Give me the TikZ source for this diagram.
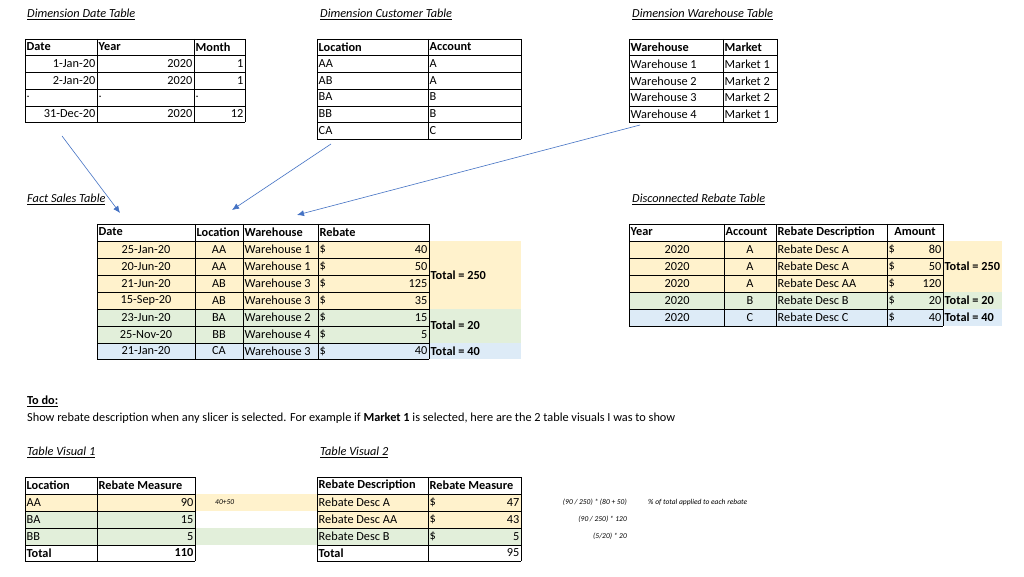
\documentclass[tikz,border=0pt]{standalone}
\usepackage{fontspec}
\setmainfont{Carlito}
\definecolor{cor}{HTML}{FFF2CC}
\definecolor{cgr}{HTML}{E2EFDA}
\definecolor{cbl}{HTML}{DDEBF7}
\definecolor{arr}{HTML}{4472C4}
\newcommand\tL[3]{\node[anchor=west,inner sep=1.5pt] at (#1,#2) {#3};}
\newcommand\tR[3]{\node[anchor=east,inner sep=1.5pt] at (#1,#2) {#3};}
\newcommand\tC[3]{\node[anchor=center,inner sep=1.5pt] at (#1,#2) {#3};}
\newcommand\ttl[3]{\node[anchor=west,inner sep=0pt,font=\fontsize{12.3}{14}\selectfont\itshape] at (#1,#2) {\underline{#3}};}
\tikzset{tline/.style={line width=0.9pt},
  conn/.style={draw=arr,line width=0.6pt,-{Latex[length=7pt,width=6pt]}}}
\usetikzlibrary{arrows.meta}
\begin{document}
\begin{tikzpicture}[x=1pt,y=-1pt,font=\fontsize{12.3}{14}\selectfont]
\useasboundingbox[fill=white] (0,0) rectangle (1024,577);
% ---------- Date table
\ttl{27}{14}{Dimension Date Table}
\foreach \x in {25,97,194,245} \draw[tline] (\x,39) -- (\x,122);
\foreach \y in {39,55,72,89,106,122} \draw[tline] (25,\y) -- (245,\y);
\tL{25}{47}{\bfseries Date}\tL{97}{47}{\bfseries Year}\tL{194}{47}{\bfseries Month}
\tR{97}{64}{1-Jan-20}\tR{194}{64}{2020}\tR{245}{64}{1}
\tR{97}{81}{2-Jan-20}\tR{194}{81}{2020}\tR{245}{81}{1}
\tL{25}{97}{.}\tL{97}{97}{.}\tL{194}{97}{.}
\tR{97}{114}{31-Dec-20}\tR{194}{114}{2020}\tR{245}{114}{12}
% ---------- Customer table
\ttl{320}{14}{Dimension Customer Table}
\foreach \x in {317,428,521} \draw[tline] (\x,39) -- (\x,139);
\foreach \y in {39,55,72,89,106,122,139} \draw[tline] (317,\y) -- (521,\y);
\tL{317}{47}{\bfseries Location}\tL{428}{47}{\bfseries Account}
\tL{317}{64}{AA}\tL{428}{64}{A}
\tL{317}{81}{AB}\tL{428}{81}{A}
\tL{317}{97}{BA}\tL{428}{97}{B}
\tL{317}{114}{BB}\tL{428}{114}{B}
\tL{317}{131}{CA}\tL{428}{131}{C}
% ---------- Warehouse table
\ttl{632}{14}{Dimension Warehouse Table}
\foreach \x in {629,723,777} \draw[tline] (\x,39) -- (\x,122);
\foreach \y in {39,55,72,89,106,122} \draw[tline] (629,\y) -- (777,\y);
\tL{629}{47}{\bfseries Warehouse}\tL{723}{47}{\bfseries Market}
\tL{629}{64}{Warehouse 1}\tL{723}{64}{Market 1}
\tL{629}{81}{Warehouse 2}\tL{723}{81}{Market 2}
\tL{629}{97}{Warehouse 3}\tL{723}{97}{Market 2}
\tL{629}{114}{Warehouse 4}\tL{723}{114}{Market 1}
% ---------- Fact table
\ttl{27}{199}{Fact Sales Table}
\fill[cor] (97,241) rectangle (521,309);
\fill[cgr] (97,309) rectangle (521,343);
\fill[cbl] (97,343) rectangle (521,359);
\foreach \x in {97,195,243,318,429} \draw[tline] (\x,224) -- (\x,359);
\foreach \y in {224,241,258,275,292,309,326,343,359} \draw[tline] (97,\y) -- (429,\y);
\tL{97}{232}{\bfseries Date}\tL{195}{232}{\bfseries Location}\tL{243}{232}{\bfseries Warehouse}\tL{318}{232}{\bfseries Rebate}
\foreach \y/\d/\l/\w/\r in {249.5/25-Jan-20/AA/1/40,266.5/20-Jun-20/AA/1/50,283.5/21-Jun-20/AB/3/125,300.5/15-Sep-20/AB/3/35,317.5/23-Jun-20/BA/2/15,334.5/25-Nov-20/BB/4/5,351/21-Jan-20/CA/3/40}{
  \tC{146}{\y}{\d}\tC{219}{\y}{\l}\tL{243}{\y}{Warehouse \w}\tL{318}{\y}{\$}\tR{429}{\y}{\r}}
\tL{429}{275}{\bfseries Total = 250}
\tL{429}{325}{\bfseries Total = 20}
\tL{429}{351}{\bfseries Total = 40}
% arrows
\coordinate (a1) at (62,136); \coordinate (b1) at (120,213);
\coordinate (a2) at (331,144); \coordinate (b2) at (232,210);
\coordinate (a3) at (640,125); \coordinate (b3) at (297,215);
\draw[conn] (a1) -- (b1);
\draw[conn] (a2) -- (b2);
\draw[conn] (a3) -- (b3);
% ---------- Rebate table
\ttl{632}{199}{Disconnected Rebate Table}
\fill[cor] (629,241) rectangle (1002,292);
\fill[cgr] (629,292) rectangle (1002,309);
\fill[cbl] (629,309) rectangle (1002,326);
\foreach \x in {629,724,776,887,943} \draw[tline] (\x,224) -- (\x,326);
\foreach \y in {224,241,258,275,292,309,326} \draw[tline] (629,\y) -- (943,\y);
\tL{629}{232}{\bfseries Year}\tL{724}{232}{\bfseries Account}\tL{776}{232}{\bfseries Rebate Description}\tC{915}{232}{\bfseries Amount}
\foreach \y/\a/\d/\m in {249.5/A/A/80,266.5/A/A/50,283.5/A/AA/120,300.5/B/B/20,317.5/C/C/40}{
  \tC{677}{\y}{2020}\tC{750}{\y}{\a}\tL{776}{\y}{Rebate Desc \d}\tL{887}{\y}{\$}\tR{943}{\y}{\m}}
\tL{943}{266.5}{\bfseries Total = 250}
\tL{943}{300.5}{\bfseries Total = 20}
\tL{943}{317.5}{\bfseries Total = 40}
% ---------- To do
\node[anchor=west,inner sep=0pt] (todo) at (27,401) {\bfseries\underline{To do:}};
\node[anchor=west,inner sep=0pt] (desc) at (27,418) {Show rebate description when any slicer is selected. For example if \textbf{Market 1} is selected, here are the 2 table visuals I was to show};
% ---------- Visual 1
\ttl{27}{452}{Table Visual 1}
\fill[cor] (25,494) rectangle (318,511);
\fill[cgr] (25,511) rectangle (195,528);
\fill[cgr] (25,528) rectangle (318,545);
\foreach \x in {25,97,195} \draw[tline] (\x,477) -- (\x,561);
\foreach \y in {477,494,511,528,545,561} \draw[tline] (25,\y) -- (195,\y);
\tL{25}{485.5}{\bfseries Location}\tL{97}{485.5}{\bfseries Rebate Measure}
\tL{25}{502.5}{AA}\tR{195}{502.5}{90}
\tL{25}{519.5}{BA}\tR{195}{519.5}{15}
\tL{25}{536.5}{BB}\tR{195}{536.5}{5}
\tL{25}{553}{\bfseries Total}\tR{195}{553}{\bfseries 110}
\node[anchor=west,inner sep=0pt,font=\fontsize{7.5}{9}\selectfont\itshape] (n1) at (215,502.5) {40+50};
% ---------- Visual 2
\ttl{320}{452}{Table Visual 2}
\fill[cor] (317,494) rectangle (521,528);
\fill[cgr] (317,528) rectangle (521,545);
\foreach \x in {317,428,521} \draw[tline] (\x,477) -- (\x,561);
\foreach \y in {477,494,511,528,545,561} \draw[tline] (317,\y) -- (521,\y);
\tL{317}{485.5}{\bfseries Rebate Description}\tL{428}{485.5}{\bfseries Rebate Measure}
\tL{317}{502.5}{Rebate Desc A}\tL{428}{502.5}{\$}\tR{521}{502.5}{47}
\tL{317}{519.5}{Rebate Desc AA}\tL{428}{519.5}{\$}\tR{521}{519.5}{43}
\tL{317}{536.5}{Rebate Desc B}\tL{428}{536.5}{\$}\tR{521}{536.5}{5}
\tL{317}{553}{\bfseries Total}\tR{521}{553}{95}
\begin{scope}[every node/.style={inner sep=0pt,font=\fontsize{7.5}{9}\selectfont\itshape}]
\node[anchor=east] (f1) at (627,502.5) {(90 / 250) * (80 + 50)};
\node[anchor=east] (f2) at (627,519.5) {(90 / 250) * 120};
\node[anchor=east] (f3) at (627,536.5) {(5/20) * 20};
\node[anchor=west] (f4) at (648,502.5) {\% of total applied to each rebate};
\end{scope}
\end{tikzpicture}
\end{document}
